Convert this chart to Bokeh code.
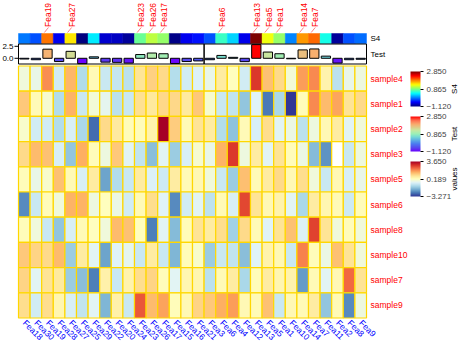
import numpy as np
from bokeh.plotting import figure
from bokeh.models import Range1d, ColumnDataSource, LinearColorMapper, ColorBar, FixedTicker
from bokeh.transform import transform
from bokeh.core.properties import value
from bokeh.embed import file_html
from bokeh.resources import INLINE

# ---------------- data ----------------
features = ["Fea18", "Fea30", "Fea19", "Fea28", "Fea27", "Fea25", "Fea29", "Fea22", "Fea20", "Fea24",
            "Fea23", "Fea26", "Fea17", "Fea15", "Fea16", "Fea21", "Fea3", "Fea6", "Fea4", "Fea12",
            "Fea13", "Fea5", "Fea1", "Fea10", "Fea14", "Fea7", "Fea11", "Fea2", "Fea8", "Fea9"]
samples = ["sample4", "sample1", "sample2", "sample3", "sample5",
           "sample6", "sample8", "sample10", "sample7", "sample9"]
marked = ["Fea19", "Fea27", "Fea23", "Fea26", "Fea17", "Fea6", "Fea13", "Fea5", "Fea1", "Fea14", "Fea7"]
split_after = 16

s4 = [-0.15, -0.3, 1.9, -0.68, 1.45, -1.12, 0.3, -0.8, -0.85, -1.0, 0.78, 1.1, 0.95, -1.08, -0.68,
      -0.55, -0.3, 0.6, 0.2, -0.7, 2.85, 1.3, 0.95, -0.1, 1.75, 1.95, 0.45, -1.0, -0.3, -0.2]
test = [-0.15, -0.3, 1.9, -0.68, 1.45, -1.12, 0.3, -0.8, -0.85, -1.0, 0.78, 1.1, 0.95, -1.08, -0.68,
        -0.55, -0.3, 0.6, 0.2, -0.7, 2.85, 1.3, 0.95, -0.1, 1.75, 1.95, 0.45, -1.0, -0.3, -0.2]
NA = float("nan")
sample4 = [-0.15, -0.3, 1.9, -0.68, 1.45, -1.12, 0.3, -0.8, -0.85, -1.0, 0.78, 1.1, 0.95, -1.08, -0.68,
           -0.55, -0.3, 0.6, 0.2, -0.7, 2.85, 1.3, 0.95, -0.1, 1.75, 1.95, 0.45, -1.0, -0.3, -0.2]
sample1 = [1.2, 0.3, 0.0, -1.1, 1.5, -0.8, -0.1, -0.4, -1.0, -0.8, 0.85, 0.7, 1.0, 1.0, 0.65,
           1.2, 0.0, -0.8, -0.9, -1.5, -0.5, -2.5, -1.2, -3.271, 0.25, 1.95, 1.4, 1.65, 0.8, 0.95]
sample2 = [0.05, -0.7, -0.7, -1.1, -0.6, -1.2, -2.65, 0.95, 0.65, 0.25, 0.25, 0.45, 3.65, 1.15, 0.3,
           0.8, 0.6, -1.1, -1.55, 0.3, -0.6, 0.9, -0.45, -0.25, -1.0, -0.2, 0.35, 0.6, -0.45, -0.15]
sample3 = [0.95, 1.4, 1.3, -0.6, -1.5, 1.55, 0.25, -0.2, 1.2, -0.45, -0.9, -1.6, -0.45, -1.4, -0.6,
           0.0, -0.3, 1.5, 2.85, -0.2, 0.6, -0.45, 0.8, 0.25, -0.25, -1.65, -2.2, NA, -0.8, -0.2]
sample5 = [0.25, -0.3, 0.05, 1.3, 0.3, -0.6, 0.6, -2.0, -1.1, -0.8, 0.6, -0.55, -0.75, 0.6, 0.3,
           0.35, -0.15, -0.8, -1.4, 1.35, 0.3, 0.6, 0.95, 0.35, 0.9, -0.15, -0.8, 0.35, -0.6, -0.3]
sample6 = [-2.3, -0.8, 0.25, -0.15, 1.5, 1.5, -0.2, 0.2, -0.25, -0.7, 0.3, 0.9, -0.5, -2.3, -0.7,
           -0.45, -0.95, 0.3, -0.6, 2.7, 0.8, 0.35, 0.45, -0.45, -1.2, 0.6, 0.4, 0.3, -0.75, 0.25]
sample8 = [0.25, -0.15, -0.8, -1.5, -0.6, 0.3, 0.2, -0.15, 1.4, 1.3, 0.2, -2.45, -0.45, -1.65, 0.25,
           0.8, 0.6, 0.9, -1.3, 0.95, 0.3, -0.5, 0.8, 1.3, -0.55, 2.75, 0.8, -0.15, 0.25, -0.15]
sample10 = [1.2, 1.05, 0.95, 1.4, -1.4, 0.6, -0.45, -2.0, -0.5, -0.4, -0.8, 0.6, -0.8, -1.75, 0.25,
            0.05, -1.4, -0.8, -0.9, -1.6, -0.5, 0.45, 0.35, -0.8, 2.05, 0.25, -0.25, 1.3, 0.8, -0.15]
sample7 = [1.05, -0.45, 0.8, 0.65, -1.4, -1.6, -2.45, 0.5, -0.8, 0.45, 0.9, 1.05, 0.25, -0.45, 0.4,
           0.4, -1.0, 0.3, 0.6, -1.2, 0.25, 0.6, 0.4, 0.45, -2.1, 0.3, -0.45, 0.35, 2.3, 0.8]
sample9 = [0.9, -0.7, 0.9, 0.4, -0.6, -0.9, -0.45, -1.75, 0.5, -0.8, 2.5, 1.4, 1.7, 0.25, 0.35,
           1.05, 1.2, 1.55, 1.75, 0.35, 0.3, 1.3, -0.8, 0.35, 0.3, 0.6, -1.5, 0.3, -2.3, -0.2]
rows = [sample4, sample1, sample2, sample3, sample5, sample6, sample8, sample10, sample7, sample9]

anno_lo, anno_mid, anno_hi = -1.12, 0.865, 2.85
val_lo, val_mid, val_hi = -3.271, 0.189, 3.65

# ---------------- palettes ----------------
def interp_pos(pos, cols, n=256):
    rgb = np.array([[int(c[i:i + 2], 16) for i in (1, 3, 5)] for c in cols], float)
    t = np.linspace(0, 1, n)
    out = np.stack([np.interp(t, pos, rgb[:, k]) for k in range(3)], 1)
    return ["#%02x%02x%02x" % tuple(int(round(v)) for v in c) for c in out]

def jet(n=256):
    t = np.linspace(0, 1, n)
    r = np.clip(1.5 - np.abs(4 * t - 3), 0, 1)
    g = np.clip(1.5 - np.abs(4 * t - 2), 0, 1)
    b = np.clip(1.5 - np.abs(4 * t - 1), 0, 1)
    return ["#%02x%02x%02x" % (int(r_ * 255), int(g_ * 255), int(b_ * 255)) for r_, g_, b_ in zip(r, g, b)]

# blue (low) -> pale yellow (mid) -> red (high)
val_cols = ["#313695", "#4575b4", "#74add1", "#abd9e9", "#e0f3f8", "#ffffbf",
            "#fee090", "#fdae61", "#f46d43", "#d73027", "#a50026"]
test_anchor_pos = [0, 0.09, 0.23, 0.41, 0.5, 0.61, 0.72, 0.77, 0.89, 1.0]
test_anchor_col = ["#6a00ff", "#5840f0", "#4a80f0", "#70d8d8", "#98f0b8", "#c8e8a0",
                   "#e8c080", "#f8b070", "#ff7050", "#ff0000"]

s4_map = LinearColorMapper(palette=jet(), low=anno_lo, high=anno_hi)
test_map = LinearColorMapper(palette=interp_pos(test_anchor_pos, test_anchor_col), low=anno_lo, high=anno_hi)
val_map = LinearColorMapper(palette=interp_pos(np.linspace(0, 1, len(val_cols)), val_cols),
                            low=val_lo, high=val_hi, nan_color="white")

# ---------------- layout (pixels) ----------------
W, H = 458, 342
NCOL, NROW = len(features), len(samples)
HM_LEFT, COL_W = 18.0, 11.6
HM_TOP, ROW_H = 65.5, 25.2
HM_RIGHT = HM_LEFT + NCOL * COL_W
S4_TOP, S4_H = 33.0, 10.0
TEST_TOP, TEST_H = 43.5, 20.0
TEST_LO, TEST_HI = -1.19, 2.98
FONT = value("Liberation Sans")
LAB_FS = "8.5px"

def px2x(px):
    return (px - HM_LEFT) / COL_W

def py2y(py):
    return (py - HM_TOP) / ROW_H

k = TEST_H / (TEST_HI - TEST_LO)
p = figure(width=W, height=H, output_backend="svg", toolbar_location=None,
           x_range=Range1d(px2x(0), px2x(W)), y_range=Range1d(py2y(H), py2y(0)),
           min_border=0, x_axis_location=None, y_axis_location=None)
p.extra_y_ranges = {"test": Range1d(TEST_LO - (H - TEST_TOP - TEST_H) / k, TEST_HI + TEST_TOP / k)}
p.grid.visible = False
p.outline_line_color = None

# heatmap cells
cx, cy, cv = [], [], []
for r, rowvals in enumerate(rows):
    for c, v in enumerate(rowvals):
        cx.append(c + 0.5)
        cy.append(r + 0.5)
        cv.append(v)
hm = ColumnDataSource(dict(x=cx, y=cy, v=np.array(cv, float)))
p.rect("x", "y", 1, 1, source=hm, fill_color=transform("v", val_map), line_color="#FFD700", line_width=1.2)

# S4 annotation
cols_x = [i + 0.5 for i in range(NCOL)]
an = ColumnDataSource(dict(x=cols_x, s4=s4, test=test))
p.rect("x", py2y(S4_TOP + S4_H / 2), 1, S4_H / ROW_H, source=an,
       fill_color=transform("s4", s4_map), line_color=transform("s4", s4_map), line_width=0.5)

# Test barplot annotation
p.vbar(x="x", top="test", bottom=0, width=0.8, source=an, y_range_name="test",
       fill_color=transform("test", test_map), line_color="black", line_width=1)
p.quad(left=[0, split_after], right=[split_after, NCOL], bottom=TEST_LO, top=TEST_HI,
       fill_color=None, line_color="black", line_width=1, y_range_name="test")
axis_ticks = [0.0, 2.5]
p.segment(x0=px2x(HM_LEFT - 4), x1=0, y0=axis_ticks, y1=axis_ticks, line_color="black",
          line_width=1, y_range_name="test")
p.text(x=px2x(HM_LEFT - 5), y=axis_ticks, text=["0.0", "2.5"], y_range_name="test",
       text_font=FONT, text_font_size="8px", text_align="right", text_baseline="middle", text_color="black")

# annotation names
lab_x = px2x(HM_RIGHT + 4)
p.text(x=[lab_x, lab_x], y=[py2y(S4_TOP + S4_H / 2), py2y(TEST_TOP + TEST_H / 2)], text=["S4", "Test"],
       text_font=FONT, text_font_size="8px", text_align="left", text_baseline="middle", text_color="black")

# row labels
p.text(x=[lab_x] * NROW, y=[r + 0.5 for r in range(NROW)], text=samples, text_font=FONT,
       text_font_size=LAB_FS, text_align="left", text_baseline="middle", text_color="red")

# column labels (bottom)
p.text(x=cols_x, y=[NROW + 3.5 / ROW_H] * NCOL, text=features, angle=-np.pi / 4, text_font=FONT,
       text_font_size=LAB_FS, text_align="left", text_baseline="middle", text_color="blue")

# marked labels (top) with links
mi = [features.index(f) for f in marked]
p.segment(x0=[i + 0.5 - 0.27 for i in mi], x1=[i + 0.5 + 0.08 for i in mi],
          y0=py2y(S4_TOP - 1), y1=py2y(S4_TOP - 6), line_color="#ff6060", line_width=0.8)
p.text(x=[i + 0.5 + 0.08 for i in mi], y=[py2y(S4_TOP - 6.5)] * len(mi), text=marked, angle=np.pi / 2,
       text_font=FONT, text_font_size=LAB_FS, text_align="left", text_baseline="middle", text_color="red")

# colour legends
MINUS = "\u2212"
def legend(mapper, lo, mid, hi, top_px, title):
    bar_h = 35
    cb = ColorBar(color_mapper=mapper, location=(410, H - top_px - bar_h), width=10, height=bar_h,
                  ticker=FixedTicker(ticks=[lo, mid, hi]),
                  major_label_overrides={lo: ("%.3f" % lo).replace("-", MINUS),
                                         mid: "%.3f" % mid, hi: "%.3f" % hi},
                  major_label_text_font="Liberation Sans", major_label_text_font_size="8px",
                  major_tick_out=3, major_tick_in=0, major_tick_line_color="black",
                  bar_line_color=None, border_line_color=None, background_fill_alpha=0,
                  padding=0, margin=0, label_standoff=3, title=None)
    p.add_layout(cb, "center")
    p.text(x=[px2x(454)], y=[py2y(top_px + bar_h / 2)], text=[title], angle=np.pi / 2, text_font=FONT,
           text_font_size="8px", text_align="center", text_baseline="middle", text_color="black")

legend(s4_map, anno_lo, anno_mid, anno_hi, 71, "S4")
legend(test_map, anno_lo, anno_mid, anno_hi, 116, "Test")
legend(val_map, val_lo, val_mid, val_hi, 161, "values")

open("out.html", "w").write(file_html(p, INLINE))
